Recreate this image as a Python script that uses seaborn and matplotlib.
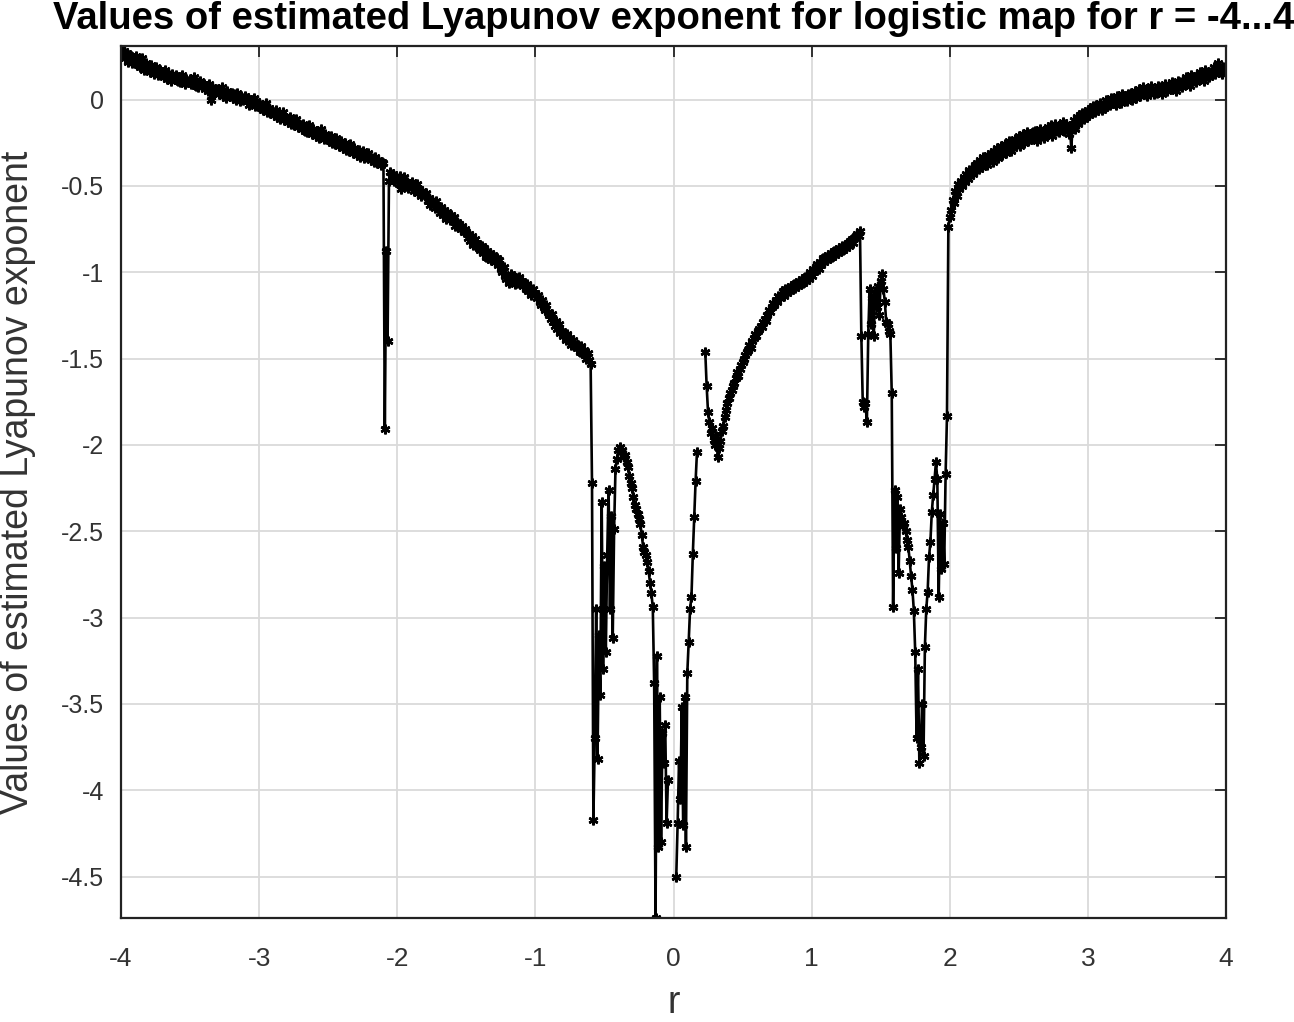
import numpy as np
import pandas as pd
import matplotlib
matplotlib.use("Agg")
import matplotlib.pyplot as plt
import seaborn as sns

# ---------------- data ----------------
title_text = "Values of estimated Lyapunov exponent for logistic map for r = -4...4"
xlabel_text = "r"
ylabel_text = "Values of estimated Lyapunov exponent"

x_ticks = [-4, -3, -2, -1, 0, 1, 2, 3, 4]
x_tick_labels = ["-4", "-3", "-2", "-1", "0", "1", "2", "3", "4"]
y_ticks = [0, -0.5, -1, -1.5, -2, -2.5, -3, -3.5, -4, -4.5]
y_tick_labels = ["0", "-0.5", "-1", "-1.5", "-2", "-2.5", "-3", "-3.5", "-4", "-4.5"]

# r grid: -4.00 ... 4.00 in steps of 0.01
r_values = np.round(np.linspace(-4.0, 4.0, 801), 2)

# r = -4.00 ... -2.10
seg_left = [
    0.31, 0.26, 0.28, 0.24, 0.27, 0.22, 0.26, 0.25, 0.21, 0.24,
    0.22, 0.25, 0.20, 0.23, 0.19, 0.24, 0.21, 0.17, 0.21, 0.19,
    0.19, 0.16, 0.20, 0.17, 0.15, 0.19, 0.16, 0.14, 0.17, 0.15,
    0.16, 0.13, 0.17, 0.12, 0.15, 0.14, 0.11, 0.15, 0.13, 0.12,
    0.14, 0.11, 0.13, 0.10, 0.14, 0.12, 0.09, 0.12, 0.11, 0.10,
    0.12, 0.09, 0.11, 0.13, 0.08, 0.10, 0.07, 0.11, 0.09, 0.08,
    0.09, 0.06, 0.08, 0.05, 0.09, 0.00, 0.07, 0.04, 0.06, 0.05,
    0.06, 0.03, 0.05, 0.07, 0.02, 0.04, 0.01, 0.05, 0.03, 0.02,
    0.04, 0.01, 0.03, 0.00, 0.04, 0.02, -0.01, 0.02, 0.00, 0.01,
    0.02, -0.01, 0.01, -0.03, 0.00, -0.02, 0.01, -0.04, -0.01, -0.03,
    -0.02, -0.05, -0.03, -0.06, -0.04, -0.02, -0.07, -0.05, -0.08, -0.06,
    -0.07, -0.09, -0.06, -0.10, -0.08, -0.11, -0.09, -0.07, -0.12, -0.10,
    -0.11, -0.13, -0.10, -0.14, -0.12, -0.15, -0.13, -0.11, -0.16, -0.14,
    -0.15, -0.17, -0.14, -0.18, -0.16, -0.19, -0.15, -0.18, -0.20, -0.17,
    -0.19, -0.21, -0.18, -0.22, -0.20, -0.17, -0.21, -0.23, -0.20, -0.22,
    -0.22, -0.24, -0.21, -0.25, -0.23, -0.26, -0.22, -0.25, -0.27, -0.24,
    -0.26, -0.28, -0.25, -0.29, -0.27, -0.30, -0.26, -0.29, -0.31, -0.28,
    -0.30, -0.32, -0.29, -0.33, -0.31, -0.30, -0.34, -0.32, -0.33, -0.31,
    -0.33, -0.35, -0.34, -0.36, -0.33, -0.37, -0.35, -0.36, -0.38, -0.36,
    -0.37,
]

# r = -2.09 ... -2.06
spike_left = [-1.91, -0.88, -1.40, -0.47]

# r = -2.05 ... -0.60
seg_mid_left = [
    -0.42, -0.45, -0.43, -0.47, -0.44,
    -0.46, -0.49, -0.44, -0.52, -0.47, -0.45, -0.50, -0.48, -0.51, -0.49,
    -0.50, -0.48, -0.53, -0.51, -0.49, -0.54, -0.52, -0.56, -0.53, -0.55,
    -0.56, -0.54, -0.59, -0.57, -0.61, -0.58, -0.60, -0.63, -0.59, -0.62,
    -0.63, -0.66, -0.62, -0.67, -0.64, -0.69, -0.65, -0.68, -0.70, -0.67,
    -0.70, -0.68, -0.73, -0.71, -0.74, -0.72, -0.75, -0.73, -0.77, -0.75,
    -0.77, -0.80, -0.78, -0.82, -0.79, -0.84, -0.81, -0.85, -0.83, -0.86,
    -0.87, -0.85, -0.89, -0.86, -0.91, -0.88, -0.92, -0.89, -0.93, -0.90,
    -0.91, -0.94, -0.92, -0.96, -0.93, -0.98, -1.00, -0.97, -1.02, -1.04,
    -1.03, -1.06, -1.01, -1.05, -1.02, -1.07, -1.04, -1.06, -1.03, -1.05,
    -1.05, -1.08, -1.06, -1.10, -1.07, -1.11, -1.09, -1.13, -1.10, -1.12,
    -1.12, -1.15, -1.13, -1.17, -1.19, -1.16, -1.20, -1.22, -1.19, -1.23,
    -1.25, -1.27, -1.24, -1.29, -1.31, -1.28, -1.33, -1.30, -1.35, -1.34,
    -1.37, -1.35, -1.39, -1.36, -1.40, -1.38, -1.42, -1.39, -1.41, -1.43,
    -1.44, -1.42, -1.46, -1.43, -1.47, -1.45, -1.48, -1.50, -1.47, -1.51,
    -1.53,
]

# r = -0.59 ... -0.04
chaos_left = [
    -2.22, -4.17,
    -3.70, -2.95, -3.82, -3.10, -3.45, -2.33, -3.30, -2.70,
    -3.20, -2.64, -2.26, -2.95, -2.41, -3.12, -2.49, -2.14, -2.08, -2.03,
    -2.01, -2.04, -2.03, -2.07, -2.06, -2.10, -2.13, -2.18, -2.22, -2.25,
    -2.30, -2.35, -2.37, -2.40, -2.43, -2.46, -2.52, -2.59, -2.62, -2.64,
    -2.68, -2.73, -2.80, -2.86, -2.94, -3.38, -4.74, -3.22, -4.33, -3.46,
    -4.30, -3.67, -3.84, -3.62, -4.19, -3.94,
]

# r = -0.03 ... 0.01 : not drawn (values not finite)
gap_zero = [np.nan, np.nan, np.nan, np.nan, np.nan]

# r = 0.02 ... 0.17
chaos_zero = [
    -4.50, -4.19, -3.83, -4.05, -3.52, -4.20, -3.46, -4.33, -3.32, -3.14,
    -2.95, -2.88, -2.63, -2.42, -2.21, -2.04,
]

# r = 0.18 ... 0.22 : not drawn
gap_small = [np.nan, np.nan, np.nan, np.nan, np.nan]

# r = 0.23 ... 1.35
seg_mid_right = [
    -1.46, -1.66, -1.81, -1.87, -1.93, -1.90, -1.97, -2.00, -1.95, -2.07,
    -2.02, -1.98, -1.92, -1.89, -1.84, -1.80, -1.76, -1.73, -1.70, -1.68,
    -1.66, -1.64, -1.61, -1.58, -1.60, -1.56, -1.54, -1.52, -1.50, -1.48,
    -1.46, -1.45, -1.42, -1.44, -1.40, -1.38, -1.36, -1.37, -1.34, -1.33,
    -1.31, -1.32, -1.29, -1.27, -1.28, -1.25, -1.22, -1.23, -1.20, -1.18,
    -1.19, -1.16, -1.17, -1.14, -1.15, -1.13, -1.11, -1.14, -1.10, -1.12,
    -1.09, -1.11, -1.08, -1.10, -1.07, -1.09, -1.06, -1.08, -1.05, -1.07,
    -1.04, -1.06, -1.03, -1.05, -1.02, -1.04, -1.00, -1.02, -0.98, -1.00,
    -0.97, -0.95, -0.98, -0.94, -0.96, -0.92, -0.94, -0.91, -0.93, -0.90,
    -0.92, -0.89, -0.91, -0.88, -0.90, -0.87, -0.89, -0.86, -0.88, -0.85,
    -0.87, -0.84, -0.86, -0.83, -0.85, -0.82, -0.81, -0.83, -0.80, -0.79,
    -0.78, -0.79, -0.76,
]

# r = 1.36 ... 1.98
chaos_right = [
    -1.37, -1.75, -1.78, -1.76, -1.87, -1.36, -1.10, -1.30, -1.15, -1.37,
    -1.12, -1.20, -1.08, -1.25, -1.05, -1.01, -1.10, -1.17, -1.29, -1.30,
    -1.34, -1.36, -1.70, -2.94, -2.26, -2.60, -2.30, -2.74, -2.37, -2.42,
    -2.47, -2.45, -2.50, -2.55, -2.59, -2.67, -2.76, -2.84, -2.96, -3.20,
    -3.70, -3.30, -3.84, -3.75, -3.50, -3.80, -3.17, -2.95, -2.85, -2.65,
    -2.56, -2.39, -2.29, -2.20, -2.10, -2.20, -2.88, -2.40, -2.72, -2.45,
    -2.69, -2.17, -1.83,
]

# r = 1.99 ... 4.00
seg_right = [
    -0.74, -0.68, -0.64, -0.58, -0.60, -0.53, -0.56, -0.49, -0.52, -0.47,
    -0.50, -0.45, -0.48, -0.43, -0.46, -0.41, -0.44, -0.40, -0.43, -0.38,
    -0.41, -0.37, -0.40, -0.35, -0.39, -0.33, -0.37, -0.34, -0.38, -0.32,
    -0.35, -0.31, -0.36, -0.30, -0.33, -0.28, -0.34, -0.31, -0.27, -0.32,
    -0.29, -0.26, -0.31, -0.27, -0.24, -0.30, -0.25, -0.28, -0.23, -0.27,
    -0.24, -0.21, -0.27, -0.23, -0.20, -0.25, -0.22, -0.19, -0.24, -0.21,
    -0.23, -0.19, -0.22, -0.18, -0.24, -0.20, -0.17, -0.21, -0.19, -0.22,
    -0.18, -0.20, -0.16, -0.19, -0.15, -0.21, -0.17, -0.14, -0.18, -0.16,
    -0.19, -0.15, -0.17, -0.13, -0.18, -0.14, -0.16, -0.20, -0.17, -0.28,
    -0.15, -0.12, -0.17, -0.10, -0.14, -0.09, -0.12, -0.08, -0.11, -0.07,
    -0.10, -0.06, -0.09, -0.05, -0.08, -0.04, -0.07, -0.03, -0.06, -0.05,
    -0.02, -0.06, -0.03, -0.05, 0.00, -0.04, -0.01, -0.03, 0.01, -0.02,
    0.00, -0.03, 0.02, -0.01, 0.01, -0.02, 0.03, 0.00, 0.02, -0.01,
    0.03, 0.01, 0.04, 0.00, 0.02, 0.05, 0.01, 0.03, 0.06, 0.02,
    0.04, 0.07, 0.03, 0.05, 0.02, 0.06, 0.04, 0.08, 0.05, 0.03,
    0.06, 0.04, 0.08, 0.05, 0.07, 0.03, 0.06, 0.09, 0.05, 0.07,
    0.08, 0.06, 0.10, 0.07, 0.09, 0.05, 0.11, 0.08, 0.10, 0.07,
    0.11, 0.09, 0.13, 0.10, 0.12, 0.08, 0.14, 0.11, 0.13, 0.10,
    0.14, 0.12, 0.16, 0.13, 0.15, 0.11, 0.17, 0.14, 0.16, 0.13,
    0.16, 0.14, 0.19, 0.15, 0.17, 0.21, 0.16, 0.18, 0.15, 0.19,
    0.17, 0.16,
]

lyap = np.array(
    seg_left + spike_left + seg_mid_left + chaos_left + gap_zero
    + chaos_zero + gap_small + seg_mid_right + chaos_right + seg_right,
    dtype=float,
)
assert len(lyap) == len(r_values), (len(lyap), len(r_values))

# pieces separated by the non-finite gaps are drawn as separate lines
piece = np.cumsum(np.isnan(lyap))
df = pd.DataFrame({"r": r_values, "lyap": lyap, "piece": piece})

# ---------------- styling ----------------
sns.set_style("white")
plt.rcParams["font.family"] = ["Liberation Sans", "DejaVu Sans"]
plt.rcParams["axes.unicode_minus"] = False

W, H = 1294, 1022
fig = plt.figure(figsize=(W / 100, H / 100), dpi=100)
ax = fig.add_axes([121 / W, 1 - 918 / H, (1226 - 121) / W, (918 - 46) / H])

sns.lineplot(
    data=df, x="r", y="lyap", units="piece", estimator=None, sort=False,
    color="black", linewidth=1.9, marker=(6, 2, 0), markersize=7,
    markeredgecolor="black", markeredgewidth=1.8, legend=False, ax=ax,
)

ax.set_xlim(-4, 4)
ax.set_ylim(np.nanmin(lyap), np.nanmax(lyap))
ax.set_xticks(x_ticks)
ax.set_xticklabels(x_tick_labels)
ax.set_yticks(y_ticks)
ax.set_yticklabels(y_tick_labels)

ax.grid(True, color="#dadada", linewidth=1.3)
ax.set_axisbelow(True)
for s in ax.spines.values():
    s.set_color("#222222")
    s.set_linewidth(1.6)
ax.tick_params(axis="both", which="both", direction="in", length=8, width=1.3,
               top=True, right=True, labelsize=18, colors="#222222",
               labelcolor="#333333")
ax.tick_params(axis="x", labelsize=19, pad=21)
ax.tick_params(axis="y", pad=12)

ax.set_xlabel("")
ax.set_ylabel("")
fig.text(673.5 / W, 1 - 1003 / H, xlabel_text, ha="center", va="center",
         fontsize=27, color="#333333")
fig.text(18 / W, 1 - 482 / H, ylabel_text, ha="center", va="center",
         rotation=90, fontsize=27, color="#333333")
fig.text(673.5 / W, 1 - 29 / H, title_text, ha="center", va="baseline",
         fontsize=27.5, fontweight="bold", color="black")

fig.savefig("out.png", dpi=100, facecolor="white")
